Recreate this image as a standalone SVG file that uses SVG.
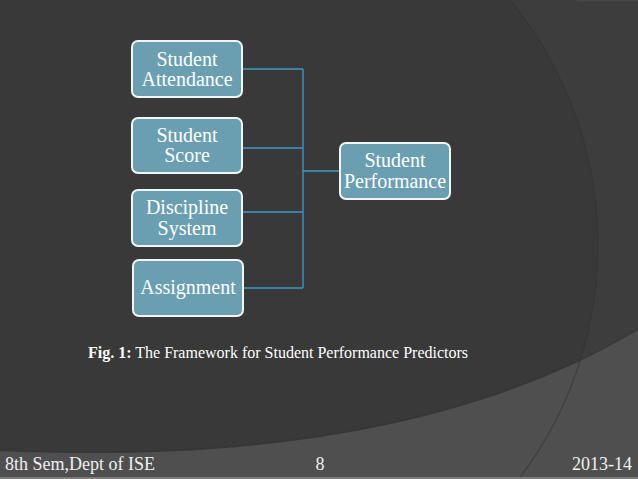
<svg xmlns="http://www.w3.org/2000/svg" width="638" height="479" viewBox="0 0 638 479">
  <style>
    .box { fill: #6a9fb1; stroke: #f2f5f6; stroke-width: 2; }
    .lbl { font-family: 'Liberation Serif', 'Times New Roman', serif; font-size: 20px; fill: #ffffff; text-anchor: middle; }
    .conn { fill: none; stroke: #3a9cc0; stroke-width: 1.3; }
    .foot { font-family: 'Liberation Serif', 'Times New Roman', serif; font-size: 18px; fill: #f0f0f0; }
    .cap { font-family: 'Liberation Serif', 'Times New Roman', serif; font-size: 16px; fill: #ffffff; }
  </style>
  <!-- background -->
  <rect x="0" y="0" width="638" height="479" fill="#3d3d3d"/>
  <circle cx="213" cy="245" r="385" fill="#393939"/>
  <rect x="577" y="0" width="61" height="1.5" fill="#474747"/>
  <path d="M0,451 C250,462 470,430 638,330 L638,479 L0,479 Z" fill="#4f4f4f"/>
  <path d="M0,450 C250,461 470,429 638,329" fill="none" stroke="#363636" stroke-width="1.2" opacity="0.6"/>
  <circle cx="213" cy="245" r="385" fill="none" stroke="#333333" stroke-width="1.2" opacity="0.6"/>
  <rect x="0" y="477" width="638" height="2" fill="#7d7d7d"/>

  <!-- connectors -->
  <g id="connectors">
    <path class="conn" d="M242,69 H303 M242,148 H303 M242,212 H303 M243,288 H303 M303,69 V288 M303,171 H340"/>
  </g>

  <g id="node-attendance">
    <rect class="box" x="132" y="41" width="110" height="56" rx="6"/>
    <text class="lbl" x="187" y="66">Student</text>
    <text class="lbl" x="187" y="86">Attendance</text>
  </g>
  <g id="node-score">
    <rect class="box" x="132" y="118" width="110" height="55" rx="6"/>
    <text class="lbl" x="187" y="142">Student</text>
    <text class="lbl" x="187" y="162">Score</text>
  </g>
  <g id="node-discipline">
    <rect class="box" x="132" y="190" width="110" height="56" rx="6"/>
    <text class="lbl" x="187" y="214">Discipline</text>
    <text class="lbl" x="187" y="235">System</text>
  </g>
  <g id="node-assignment">
    <rect class="box" x="133" y="260" width="110" height="56" rx="6"/>
    <text class="lbl" x="188" y="294">Assignment</text>
  </g>
  <g id="node-performance">
    <rect class="box" x="340" y="143" width="110" height="56" rx="6"/>
    <text class="lbl" x="395" y="167">Student</text>
    <text class="lbl" x="395" y="188">Performance</text>
  </g>

  <text class="cap" x="88" y="358"><tspan font-weight="bold">Fig. 1:</tspan> The Framework for Student Performance Predictors</text>

  <text class="foot" x="5" y="470">8th Sem,Dept of ISE</text>
  <text class="foot" x="320" y="470" text-anchor="middle">8</text>
  <text class="foot" x="632" y="470" text-anchor="end">2013-14</text>
</svg>
